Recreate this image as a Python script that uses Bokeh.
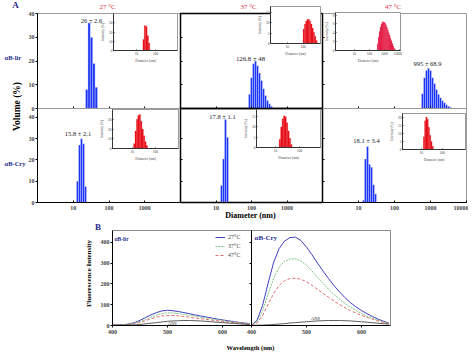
import math
from bokeh.plotting import figure
from bokeh.models import (Range1d, FixedTicker, PrintfTickFormatter, Label, Column,
                          Legend, LegendItem)
from bokeh.embed import file_html
from bokeh.resources import INLINE

FONT = "Liberation Serif"
NAVY = "#1e2a8c"
BAR_BLUE = "#1b34f5"
BAR_RED = "#e8101a"
BAR_CRIMSON = "#e3153f"
TEMP_RED = "#e03040"

# ---------------- Panel A : DLS volume distributions ----------------
tl_diam = [23.8, 27.8, 32.4, 37.8, 44.2]
tl_vol = [8, 36, 30, 19, 9]
tm_diam = [87.9, 100, 113.8, 129.6, 147.5, 167.9, 191.2, 217.7, 247.8, 282.1, 321.1, 365.6]
tm_vol = [6, 13, 18.8, 19.9, 18, 15, 11.8, 8.3, 5.5, 3.4, 2, 1]
tr_diam = [599, 681, 774, 880, 1000, 1136, 1292, 1468, 1668, 1896, 2154, 2448, 2783, 3162, 3594]
tr_vol = [6.2, 13, 16, 17, 16, 13, 10.5, 8, 6, 4.5, 3.3, 2.4, 1.6, 1, 0.5]
bl_diam = [13.1, 15.0, 17.0, 19.4, 22.0]
bl_vol = [10, 27, 30, 27.6, 7.5]
bm_diam = [14.3, 16.3, 18.5, 21.1]
bm_vol = [8, 20.5, 39, 30.7]
br_diam = [13.8, 15.6, 17.8, 20.2, 23.0, 26.1, 29.7]
br_vol = [1, 20.5, 26.3, 18, 16.6, 8.3, 4]

# insets : intensity distributions
tli_diam = [23.4, 27.5, 33.1, 38.9, 45.7]
tli_int = [12, 27, 26, 16, 8]
tmi_diam = [107, 129, 155, 186, 224, 269, 324, 389, 468, 562, 676]
tmi_int = [7, 9.5, 11, 11.7, 11.8, 11, 9.5, 7.5, 5.5, 3.5, 1.5]
tri_diam = [355, 407, 468, 537, 617, 708, 813, 933, 1072, 1230, 1413, 1622, 1862,
            2138, 2455, 2818, 3236, 3715, 4266, 4898]
tri_int = [1.5, 3, 4.3, 5.3, 6.0, 6.4, 6.5, 6.45, 6.2, 5.8, 5.3, 4.7, 4.1, 3.5, 2.8,
           2.2, 1.6, 1.0, 0.5, 0.2]
bli_diam = [12.3, 14.1, 16.2, 18.6, 21.4, 24.5, 28.2, 32.4, 37.2, 42.7]
bli_int = [5, 18, 30, 34, 35, 28, 20, 13, 7, 3]
bmi_diam = [15.1, 17.4, 20.0, 22.9, 26.3, 30.2, 34.7, 39.8, 45.7]
bmi_int = [4, 10, 14, 15.5, 15, 12, 8, 4.5, 1.5]
bri_diam = [13.5, 15.5, 17.8, 20.4, 23.4, 26.9, 30.9, 35.5]
bri_int = [8, 18, 20.4, 19, 14, 9, 5, 2]

# ---------------- Panel B : ANS fluorescence ----------------
wavelength = [400, 410, 420, 430, 440, 450, 460, 470, 480, 490, 500, 510, 520,
              530, 540, 550, 560, 570, 580, 590, 600, 610, 620, 630, 640, 650]
lir_27 = [3, 3, 4, 7, 14, 25, 38, 51, 62, 70, 73, 71, 67, 62, 57, 51, 46, 41, 36, 31, 27, 23, 19, 15, 12, 9]
lir_37 = [3, 3, 4, 6, 11, 19, 29, 40, 50, 57, 61, 60, 57, 53, 49, 45, 40, 36, 32, 28, 24, 20, 17, 14, 11, 8]
lir_47 = [3, 3, 3, 5, 9, 15, 23, 32, 40, 46, 48, 48, 46, 43, 40, 36, 33, 29, 26, 23, 20, 17, 14, 12, 9, 7]
lir_ans = [1, 1, 1, 2, 3, 5, 8, 11, 14, 17, 20, 22, 23, 24, 24, 23, 22, 20, 18, 16, 14, 12, 10, 8, 6, 5]
cry_27 = [2, 25, 95, 200, 300, 368, 405, 422, 424, 408, 377, 340, 300, 262, 226, 192, 162,
          134, 110, 90, 72, 57, 43, 31, 21, 12]
cry_37 = [2, 18, 70, 150, 225, 280, 308, 319, 320, 310, 290, 262, 232, 203, 175, 150, 127,
          106, 88, 72, 58, 46, 35, 26, 17, 10]
cry_47 = [2, 12, 48, 100, 152, 192, 215, 225, 227, 222, 210, 193, 174, 155, 136, 118, 101,
          86, 72, 60, 49, 39, 30, 22, 15, 9]
cry_ans = [0, 1, 2, 3, 5, 7, 9, 12, 14, 16, 18, 20, 22, 23, 24, 24, 24, 23, 22, 20, 18, 16,
           13, 11, 9, 7]
legend_labels = ["27°C", "37°C", "47°C"]

# every figure in the column gets the same left/right borders (Bokeh aligns them)
LB = 25
RB = 2


def base_fig(fx, fy, fw, fh, T, B, **kw):
    p = figure(width=LB + fw + RB, height=T + fh + B, toolbar_location=None,
               output_backend="svg", title=None, sizing_mode="fixed",
               min_border_left=LB, min_border_right=RB, min_border_top=T,
               min_border_bottom=B, **kw)
    p.border_fill_alpha = 0
    p.background_fill_alpha = 0
    p.xgrid.visible = False
    p.ygrid.visible = False
    p.styles = {"position": "absolute", "left": f"{fx - LB}px", "top": f"{fy - T}px"}
    return p


def style_axis(ax, labels=True, size="6px", bold=True, tin=0, tout=2, standoff=2,
               color="black", ticks=None, fmt=None):
    ax.axis_line_color = color
    ax.major_tick_line_color = color
    ax.major_tick_in = tin
    ax.major_tick_out = tout
    ax.minor_tick_line_color = None
    ax.major_label_text_font = FONT
    ax.major_label_text_font_size = size
    ax.major_label_text_font_style = "bold" if bold else "normal"
    ax.major_label_standoff = standoff
    if ticks is not None:
        ax.ticker = FixedTicker(ticks=ticks)
    if fmt is not None:
        ax.formatter = fmt
    if not labels:
        ax.major_label_text_color = None


def log_bars(p, diam, heights, width_dec, color, line_color="white", lw=0.3):
    half = 10 ** (width_dec / 2)
    left = [d / half for d in diam]
    right = [d * half for d in diam]
    p.quad(left=left, right=right, bottom=0, top=heights, fill_color=color,
           line_color=line_color, line_width=lw)


def dls_panel(fx, fy, fw, fh, ymax, diam, vol, wdec, ylabels, xlabels, xticks,
              outline, owidth):
    p = base_fig(fx, fy, fw, fh, 2, 14, x_axis_type="log",
                 x_range=Range1d(1, 10000), y_range=Range1d(0, ymax))
    p.outline_line_color = outline
    p.outline_line_width = owidth
    log_bars(p, diam, vol, wdec, BAR_BLUE)
    style_axis(p.xaxis[0], labels=xlabels, tin=2, tout=0, standoff=3, ticks=xticks,
               fmt=PrintfTickFormatter(format="%d"))
    if ylabels:
        style_axis(p.yaxis[0], labels=True, tin=0, tout=2, standoff=1,
                   ticks=[0, 10, 20, 30, 40])
    else:
        style_axis(p.yaxis[0], labels=False, tin=2, tout=0, ticks=[10, 20, 30])
    return p


def inset(fx, fy, fw, fh, T, xr, xticks, yr, yticks, diam, vals, wdec, color):
    p = base_fig(fx, fy, fw, fh, T, 10, x_axis_type="log",
                 x_range=Range1d(*xr), y_range=Range1d(*yr))
    p.background_fill_alpha = 1
    p.background_fill_color = "white"
    p.outline_line_color = "#9a9a9a"
    log_bars(p, diam, vals, wdec, color, line_color=color, lw=0.2)
    for ax, ticks, lab in ((p.xaxis[0], xticks, "Diameter (nm)"),
                           (p.yaxis[0], yticks, "Intensity (%)")):
        style_axis(ax, labels=True, size="3.5px", bold=False, tin=1, tout=0,
                   standoff=1, ticks=ticks, color="#333333")
        ax.axis_label = lab
        ax.axis_label_text_font = FONT
        ax.axis_label_text_font_size = "3.5px"
        ax.axis_label_text_font_style = "normal"
        ax.axis_label_standoff = 1
    p.xaxis[0].formatter = PrintfTickFormatter(format="%d")
    return p


children = []
# main DLS panels
children.append(dls_panel(37, 13, 143, 95, 40, tl_diam, tl_vol, 0.067, True, False,
                          [10, 100, 1000], "#9a9a9a", 1))
children.append(dls_panel(180, 13, 142, 95, 40, tm_diam, tm_vol, 0.056, False, False,
                          [10, 100, 1000], "black", 1.5))
children.append(dls_panel(322, 13, 144, 95, 40, tr_diam, tr_vol, 0.056, False, False,
                          [10, 100, 1000], "#9a9a9a", 1))
children.append(dls_panel(37, 108, 143, 94, 44.2, bl_diam, bl_vol, 0.056, True, True,
                          [10, 100, 1000], "#9a9a9a", 1))
children.append(dls_panel(180, 108, 142, 94, 44.2, bm_diam, bm_vol, 0.056, False, True,
                          [10, 100, 1000], "black", 1.5))
children.append(dls_panel(322, 108, 144, 94, 44.2, br_diam, br_vol, 0.056, False, True,
                          [10, 100, 1000, 10000], "#9a9a9a", 1))

# insets
children.append(inset(113, 13, 64, 42, 1, (0.6, 1450), [10, 100], (0, 40), [0, 10, 20, 30],
                      tli_diam, tli_int, 0.074, BAR_RED))
children.append(inset(270, 6, 50, 42, 1, (0.9, 1200), [10, 100], (0, 18), [0, 5, 10, 15],
                      tmi_diam, tmi_int, 0.08, BAR_RED))
children.append(inset(335, 12, 65, 43, 1, (0.6, 11000), [10, 100, 1000, 10000], (0, 8.6),
                      [0, 2, 4, 6, 8], tri_diam, tri_int, 0.06, BAR_CRIMSON))
children.append(inset(112, 109, 66, 44, 0, (1.43, 970), [10, 100], (0, 40), [0, 10, 20, 30],
                      bli_diam, bli_int, 0.06, BAR_RED))
children.append(inset(256, 109, 64, 43, 0, (1.6, 750), [10, 100], (0, 18.5), [0, 5, 10, 15],
                      bmi_diam, bmi_int, 0.06, BAR_RED))
children.append(inset(402, 113, 63, 41, 0, (1.29, 1290), [10, 100], (0, 22.6),
                      [0, 5, 10, 15, 20], bri_diam, bri_int, 0.06, BAR_RED))

# Panel B
LINE_BLUE = "#3f3fc4"
LINE_GREEN = "#7fc47f"
LINE_PINK = "#e36b6b"
LINE_ANS = "#333333"


def fluo_panel(fx, ylabels):
    p = base_fig(fx, 230, 139, 95, 1, 14,
                 x_range=Range1d(400, 653), y_range=Range1d(0, 456))
    p.outline_line_color = "#8a8a8a"
    style_axis(p.xaxis[0], labels=True, tin=0, tout=2, standoff=2, ticks=[400, 500, 600])
    style_axis(p.yaxis[0], labels=ylabels, tin=0, tout=2, standoff=1,
               ticks=[0, 100, 200, 300, 400])
    return p


pL = fluo_panel(112, True)
r1 = pL.line(wavelength, lir_27, line_color=LINE_BLUE, line_width=1)
r2 = pL.line(wavelength, lir_37, line_color=LINE_GREEN, line_width=1, line_dash="2 1")
r3 = pL.line(wavelength, lir_47, line_color=LINE_PINK, line_width=1, line_dash="3 2")
pL.line(wavelength, lir_ans, line_color=LINE_ANS, line_width=0.8)
leg = Legend(items=[LegendItem(label=legend_labels[0], renderers=[r1]),
                    LegendItem(label=legend_labels[1], renderers=[r2]),
                    LegendItem(label=legend_labels[2], renderers=[r3])],
             location=(103, 67))
leg.label_text_font = FONT
leg.label_text_font_size = "6px"
leg.glyph_width = 10
leg.glyph_height = 6
leg.label_height = 6
leg.label_standoff = 3
leg.spacing = 3
leg.padding = 1
leg.margin = 0
leg.border_line_color = None
leg.background_fill_alpha = 0
pL.add_layout(leg)
children.append(pL)

pR = fluo_panel(251, False)
pR.line(wavelength, cry_27, line_color=LINE_BLUE, line_width=1)
pR.line(wavelength, cry_37, line_color=LINE_GREEN, line_width=1, line_dash="2 1")
pR.line(wavelength, cry_47, line_color=LINE_PINK, line_width=1, line_dash="3 2")
pR.line(wavelength, cry_ans, line_color=LINE_ANS, line_width=0.8)
children.append(pR)

# overlay with free texts: its frame covers exactly the 474x352 page
ov = base_fig(0, 0, 474, 352, 0, 0, x_range=Range1d(0, 474), y_range=Range1d(352, 0),
              x_axis_location=None, y_axis_location=None)
ov.outline_line_color = None

texts = [
    ("A", 15, 4, 9, "bold", NAVY, "center", 0),
    ("27 °C", 107, 6, 7, "normal", TEMP_RED, "center", 0),
    ("37 °C", 248, 6.7, 7, "normal", TEMP_RED, "center", 0),
    ("47 °C", 392.5, 6.7, 7, "normal", TEMP_RED, "center", 0),
    ("αB-lir", 4, 57, 6.5, "bold", NAVY, "left", 0),
    ("αB-Cry", 4, 163, 6.5, "bold", NAVY, "left", 0),
    ("Volume (%)", 16, 106, 9.5, "bold", "black", "center", math.pi / 2),
    ("26 ± 2.6", 91, 19.5, 6.5, "normal", "#222222", "center", 0),
    ("126.8 ± 48", 250, 57.5, 6.8, "normal", "#222222", "center", 0),
    ("995 ± 68.9", 427, 63, 6.5, "normal", "#222222", "center", 0),
    ("15.8 ± 2.1", 77.5, 133, 6.5, "normal", "#222222", "center", 0),
    ("17.8 ± 1.1", 222, 115.5, 6.5, "normal", "#222222", "center", 0),
    ("18.1 ± 3.4", 366, 140, 6.5, "normal", "#222222", "center", 0),
    ("Diameter (nm)", 250, 215, 8, "bold", "black", "center", 0),
    ("B", 97.5, 226.5, 9, "bold", NAVY, "center", 0),
    ("αB-lir", 114, 238, 5.5, "bold", NAVY, "left", 0),
    ("αB-Cry", 254, 237.5, 7, "bold", NAVY, "left", 0),
    ("ANS", 171.7, 322.5, 4.5, "normal", "#222222", "center", 0),
    ("ANS", 315, 317.7, 4.5, "normal", "#222222", "center", 0),
    ("Fluorescence Intensity", 88.3, 273, 7, "bold", "black", "center", math.pi / 2),
    ("Wavelength (nm)", 250, 347, 6.5, "bold", "black", "center", 0),
]
for t, x, y, size, style, color, align, ang in texts:
    ov.add_layout(Label(x=x, y=y, text=t, text_font=FONT, text_font_size=f"{size}px",
                        text_font_style=style, text_color=color, text_align=align,
                        text_baseline="middle", angle=ang))
children.append(ov)

root = Column(children=children, width=474, height=352, sizing_mode="fixed",
              styles={"position": "relative", "overflow": "hidden",
                      "background-color": "white"})

open("out.html", "w").write(file_html(root, INLINE))
